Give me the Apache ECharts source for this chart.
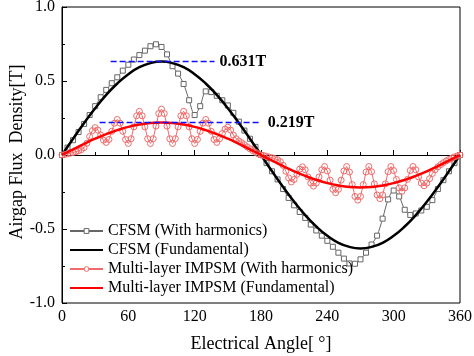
<!DOCTYPE html>
<html><head><meta charset="utf-8">
<script src="https://cdn.jsdelivr.net/npm/echarts@6/dist/echarts.min.js"></script>
<style>html,body{margin:0;padding:0;background:#fff}#c{width:474px;height:356px}</style>
</head><body><div id="c"></div>
<script>
// ---- data ----
const xTicks = [0, 60, 120, 180, 240, 300, 360];
const yTicks = [-1.0, -0.5, 0.0, 0.5, 1.0];
const seriesNames = ['CFSM (With harmonics)', 'CFSM (Fundamental)', 'Multi-layer IMPSM (With harmonics)', 'Multi-layer IMPSM (Fundamental)'];
const xTitle = 'Electrical Angle[ °]';
const yTitle = 'Airgap Flux  Density[T]';

const cfsmHarmStep = 5; // degrees between samples
const cfsmHarm = [0, 0.05, 0.10, 0.155, 0.21, 0.27, 0.33, 0.39, 0.44, 0.485, 0.525, 0.57, 0.61, 0.645, 0.675, 0.705, 0.735, 0.748, 0.73, 0.68, 0.60, 0.55, 0.48, 0.37, 0.27, 0.33, 0.43, 0.425, 0.40, 0.37, 0.335, 0.285, 0.225, 0.165, 0.11, 0.055, 0,
  -0.055, -0.11, -0.165, -0.23, -0.29, -0.34, -0.385, -0.425, -0.47, -0.51, -0.545, -0.58, -0.62, -0.66, -0.70, -0.733, -0.735, -0.705, -0.66, -0.605, -0.545, -0.43, -0.30, -0.24, -0.28, -0.37, -0.405, -0.395, -0.375, -0.35, -0.305, -0.23, -0.17, -0.11, -0.055, 0];

const impsmHarmStep = 2.5;
const impsmHarm = [0, 0.004, 0.008, 0.012, 0.017, 0.022, 0.028, 0.036, 0.05, 0.08, 0.125, 0.165, 0.185, 0.168, 0.135, 0.1, 0.085, 0.105, 0.16, 0.215, 0.24, 0.215, 0.16, 0.105, 0.078, 0.11, 0.19, 0.265, 0.295, 0.265, 0.19, 0.11, 0.078, 0.11, 0.195, 0.28, 0.31, 0.28, 0.195, 0.11, 0.078, 0.11, 0.19, 0.265, 0.295, 0.265, 0.19, 0.11, 0.078, 0.105, 0.16, 0.215, 0.24, 0.215, 0.16, 0.105, 0.085, 0.11, 0.145, 0.175, 0.188, 0.168, 0.135, 0.11, 0.095, 0.083, 0.07, 0.055, 0.042, 0.03, 0.018, 0.008, 0,
  -0.004, -0.009, -0.014, -0.019, -0.025, -0.032, -0.045, -0.07, -0.11, -0.155, -0.182, -0.165, -0.13, -0.095, -0.08, -0.1, -0.148, -0.19, -0.21, -0.19, -0.148, -0.1, -0.078, -0.108, -0.17, -0.232, -0.255, -0.232, -0.17, -0.108, -0.078, -0.115, -0.2, -0.28, -0.305, -0.28, -0.2, -0.115, -0.078, -0.113, -0.195, -0.27, -0.295, -0.27, -0.195, -0.113, -0.078, -0.105, -0.165, -0.222, -0.245, -0.222, -0.165, -0.105, -0.078, -0.1, -0.148, -0.19, -0.208, -0.19, -0.16, -0.125, -0.1, -0.08, -0.065, -0.052, -0.04, -0.03, -0.021, -0.013, -0.006, 0];

const fundStep = 10;
const cfsmFund = [0, 0.110, 0.216, 0.316, 0.406, 0.483, 0.546, 0.593, 0.621, 0.631, 0.621, 0.593, 0.546, 0.483, 0.406, 0.316, 0.216, 0.110, 0,
  -0.110, -0.216, -0.316, -0.406, -0.483, -0.546, -0.593, -0.621, -0.631, -0.621, -0.593, -0.546, -0.483, -0.406, -0.316, -0.216, -0.110, 0];
const impsmFund = [0, 0.038, 0.075, 0.110, 0.141, 0.168, 0.190, 0.206, 0.216, 0.219, 0.216, 0.206, 0.190, 0.168, 0.141, 0.110, 0.075, 0.038, 0,
  -0.038, -0.075, -0.110, -0.141, -0.168, -0.190, -0.206, -0.216, -0.219, -0.216, -0.206, -0.190, -0.168, -0.141, -0.110, -0.075, -0.038, 0];

const peakCfsm = 0.631, peakImpsm = 0.219;
const peakLabelCfsm = '0.631T', peakLabelImpsm = '0.219T';
const peakSpanCfsm = [44, 138];   // angle range of dashed line
const peakSpanImpsm = [34, 178];

// ---- build ----
const pairs = (arr, step) => arr.map((v, i) => [i * step, v]);
const FONT = 'Liberation Serif';
const redLight = '#f06b6b';
const noSym = {color: 'rgba(0,0,0,0)', borderWidth: 0, opacity: 0};

const chart = echarts.init(document.getElementById('c'), null, {renderer: 'canvas'});
chart.setOption({
  animation: false,
  backgroundColor: '#fff',
  grid: {left: 62, right: 14, top: 7, bottom: 53, outerBoundsMode: 'none', containLabel: false,
    show: true, borderColor: '#000', borderWidth: 1, backgroundColor: 'transparent'},
  graphic: [{
    type: 'text', x: 17, y: 152, rotation: Math.PI / 2, silent: true,
    style: {text: yTitle, font: '18px "Liberation Serif"', fill: '#000', align: 'center', verticalAlign: 'middle'}
  }],
  legend: {
    data: [
      {name: seriesNames[0], itemStyle: {color: '#fff', borderColor: '#666', borderWidth: 1}},
      {name: seriesNames[1], itemStyle: noSym},
      {name: seriesNames[2], itemStyle: {color: '#fff', borderColor: redLight, borderWidth: 1}},
      {name: seriesNames[3], itemStyle: noSym}
    ],
    orient: 'vertical', left: 69, top: 223, padding: 0,
    itemWidth: 33, itemHeight: 6, itemGap: 3,
    textStyle: {fontFamily: FONT, fontSize: 16, color: '#000', lineHeight: 16}
  },
  xAxis: {
    type: 'value', min: xTicks[0], max: xTicks[xTicks.length - 1], interval: 60,
    name: xTitle, nameLocation: 'middle', nameGap: 32,
    nameTextStyle: {fontFamily: FONT, fontSize: 18, color: '#000'},
    axisLine: {show: true, lineStyle: {color: '#000', width: 1}},
    axisTick: {show: true, inside: true, length: 5, lineStyle: {color: '#000'}},
    minorTick: {show: true, splitNumber: 2, length: 3, lineStyle: {color: '#000'}},
    splitLine: {show: false},
    axisLabel: {fontFamily: FONT, fontSize: 16, color: '#000', margin: 6, showMinLabel: true, showMaxLabel: true}
  },
  yAxis: {
    type: 'value', min: yTicks[0], max: yTicks[yTicks.length - 1], interval: 0.5,
    axisLine: {show: true, lineStyle: {color: '#000', width: 1}},
    axisTick: {show: true, inside: true, length: 5, lineStyle: {color: '#000'}},
    minorTick: {show: true, splitNumber: 2, length: 3, lineStyle: {color: '#000'}},
    splitLine: {show: false},
    axisLabel: {fontFamily: FONT, fontSize: 16, color: '#000', margin: 7, showMinLabel: true, showMaxLabel: true,
      formatter: v => v.toFixed(1)}
  },
  series: [
    {
      name: seriesNames[0], type: 'line', data: pairs(cfsmHarm, cfsmHarmStep), smooth: 0.3,
      symbol: 'rect', symbolSize: 5,
      itemStyle: {color: '#fff', borderColor: '#666', borderWidth: 1},
      lineStyle: {color: '#666', width: 1}, z: 2
    },
    {
      name: seriesNames[1], type: 'line', data: pairs(cfsmFund, fundStep), smooth: true,
      symbol: 'none', itemStyle: {color: '#000'}, lineStyle: {color: '#000', width: 2.5}, z: 3
    },
    {
      name: seriesNames[2], type: 'line', data: pairs(impsmHarm, impsmHarmStep), smooth: false,
      symbol: 'circle', symbolSize: 6,
      itemStyle: {color: 'rgba(255,255,255,0)', borderColor: redLight, borderWidth: 1},
      lineStyle: {color: redLight, width: 1}, z: 4
    },
    {
      name: seriesNames[3], type: 'line', data: pairs(impsmFund, fundStep), smooth: true,
      symbol: 'none', itemStyle: {color: '#ff0000'}, lineStyle: {color: '#ff0000', width: 2.5}, z: 5
    },
    {
      type: 'line', data: peakSpanCfsm.map(a => [a, peakCfsm]), symbol: 'none', silent: true,
      lineStyle: {color: '#1010ff', width: 1.5, type: [6, 3]}, z: 6,
      endLabel: {show: true, formatter: peakLabelCfsm, distance: 5, fontFamily: FONT, fontSize: 16, fontWeight: 'bold', color: '#000'}
    },
    {
      type: 'line', data: peakSpanImpsm.map(a => [a, peakImpsm]), symbol: 'none', silent: true,
      lineStyle: {color: '#1010ff', width: 1.5, type: [6, 3]}, z: 6,
      endLabel: {show: true, formatter: peakLabelImpsm, distance: 9, fontFamily: FONT, fontSize: 16, fontWeight: 'bold', color: '#000'}
    }
  ]
});
</script></body></html>
